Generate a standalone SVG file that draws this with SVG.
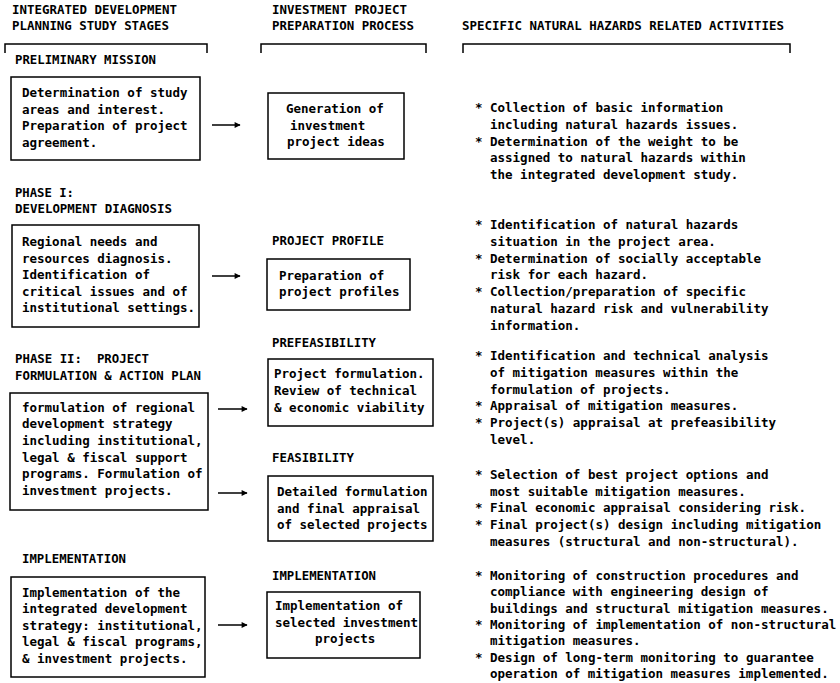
<svg xmlns="http://www.w3.org/2000/svg" width="840" height="683" viewBox="0 0 840 683">
<style>
text{font-family:"DejaVu Sans Mono","Liberation Mono",monospace;font-weight:bold;fill:#000}
.t{font-size:12.5px}
.h{font-size:13px}
.box{fill:none;stroke:#000;stroke-width:1.5}
.br{fill:none;stroke:#000;stroke-width:1.5}
.ar{stroke:#000;stroke-width:1.5;fill:none;marker-end:url(#ah)}
</style>
<defs>
<marker id="ah" viewBox="0 0 10 10" refX="9" refY="5" markerWidth="7" markerHeight="6" markerUnits="userSpaceOnUse" orient="auto">
<path d="M0,0 L10,5 L0,10 Z" fill="#000"/>
</marker>
</defs>
<rect width="840" height="683" fill="#fff"/>

<g id="headers">
<text class="h" x="12" y="13.5" textLength="165" lengthAdjust="spacingAndGlyphs">INTEGRATED DEVELOPMENT</text>
<text class="h" x="12" y="30" textLength="157" lengthAdjust="spacingAndGlyphs">PLANNING STUDY STAGES</text>
<text class="h" x="272" y="13.5" textLength="135" lengthAdjust="spacingAndGlyphs">INVESTMENT PROJECT</text>
<text class="h" x="272" y="30" textLength="142" lengthAdjust="spacingAndGlyphs">PREPARATION PROCESS</text>
<text class="h" x="462" y="30" textLength="322" lengthAdjust="spacingAndGlyphs">SPECIFIC NATURAL HAZARDS RELATED ACTIVITIES</text>
<path class="br" d="M5,53 V44 H207 V53"/>
<path class="br" d="M261,53 V44 H426 V53"/>
<path class="br" d="M463,53 V44 H790 V53"/>
</g>

<g id="labels">
<text class="h" x="15" y="64" textLength="141" lengthAdjust="spacingAndGlyphs">PRELIMINARY MISSION</text>
<text class="h" x="15" y="197" textLength="59" lengthAdjust="spacingAndGlyphs">PHASE I:</text>
<text class="h" x="15" y="213" textLength="157" lengthAdjust="spacingAndGlyphs">DEVELOPMENT DIAGNOSIS</text>
<text class="h" x="272" y="245" textLength="112" lengthAdjust="spacingAndGlyphs">PROJECT PROFILE</text>
<text class="h" x="272" y="346.7" textLength="104" lengthAdjust="spacingAndGlyphs">PREFEASIBILITY</text>
<text class="h" x="15" y="363" textLength="134" lengthAdjust="spacingAndGlyphs" xml:space="preserve">PHASE II:  PROJECT</text>
<text class="h" x="15" y="380" textLength="186" lengthAdjust="spacingAndGlyphs">FORMULATION &amp; ACTION PLAN</text>
<text class="h" x="272" y="461.7" textLength="82" lengthAdjust="spacingAndGlyphs">FEASIBILITY</text>
<text class="h" x="22" y="562.5" textLength="104" lengthAdjust="spacingAndGlyphs">IMPLEMENTATION</text>
<text class="h" x="272" y="580" textLength="104" lengthAdjust="spacingAndGlyphs">IMPLEMENTATION</text>
</g>

<g id="stage-preliminary">
<rect class="box" x="11" y="77" width="189" height="83"/>
<text class="t" x="22" y="97">Determination of study</text>
<text class="t" x="22" y="113.6">areas and interest.</text>
<text class="t" x="22" y="130.2">Preparation of project</text>
<text class="t" x="22" y="146.8">agreement.</text>
</g>

<g id="process-ideas">
<rect class="box" x="268" y="93" width="136" height="66"/>
<text class="t" x="286" y="113">Generation of</text>
<text class="t" x="290" y="129.6">investment</text>
<text class="t" x="287" y="146">project ideas</text>
</g>

<g id="activities-preliminary">
<text class="t" x="475" y="111.7">* Collection of basic information</text>
<text class="t" x="490" y="128.6">including natural hazards issues.</text>
<text class="t" x="475" y="145.5">* Determination of the weight to be</text>
<text class="t" x="490" y="162.4">assigned to natural hazards within</text>
<text class="t" x="490" y="179.3">the integrated development study.</text>
</g>

<g id="stage-phase1">
<rect class="box" x="12" y="225" width="187" height="102"/>
<text class="t" x="22" y="246">Regional needs and</text>
<text class="t" x="22" y="262.6">resources diagnosis.</text>
<text class="t" x="22" y="279.2">Identification of</text>
<text class="t" x="22" y="295.8">critical issues and of</text>
<text class="t" x="22" y="312.4">institutional settings.</text>
</g>

<g id="process-profile">
<rect class="box" x="267" y="259" width="143" height="51"/>
<text class="t" x="279" y="280">Preparation of</text>
<text class="t" x="279" y="296">project profiles</text>
</g>

<g id="activities-phase1">
<text class="t" x="475" y="229">* Identification of natural hazards</text>
<text class="t" x="490" y="245.8">situation in the project area.</text>
<text class="t" x="475" y="262.6">* Determination of socially acceptable</text>
<text class="t" x="490" y="279.4">risk for each hazard.</text>
<text class="t" x="475" y="296.2">* Collection/preparation of specific</text>
<text class="t" x="490" y="313">natural hazard risk and vulnerability</text>
<text class="t" x="490" y="329.8">information.</text>
</g>

<g id="process-prefeasibility">
<rect class="box" x="268" y="359" width="165" height="67"/>
<text class="t" x="274" y="378.3">Project formulation.</text>
<text class="t" x="274" y="395">Review of technical</text>
<text class="t" x="274" y="411.7">&amp; economic viability</text>
</g>

<g id="stage-phase2">
<rect class="box" x="10" y="393" width="198" height="117"/>
<text class="t" x="22" y="411.7">formulation of regional</text>
<text class="t" x="22" y="428.3">development strategy</text>
<text class="t" x="22" y="445">including institutional,</text>
<text class="t" x="22" y="461.6">legal &amp; fiscal support</text>
<text class="t" x="22" y="478.2">programs. Formulation of</text>
<text class="t" x="22" y="494.8">investment projects.</text>
</g>

<g id="activities-prefeasibility">
<text class="t" x="475" y="360">* Identification and technical analysis</text>
<text class="t" x="490" y="376.8">of mitigation measures within the</text>
<text class="t" x="490" y="393.6">formulation of projects.</text>
<text class="t" x="475" y="410.4">* Appraisal of mitigation measures.</text>
<text class="t" x="475" y="427.2">* Project(s) appraisal at prefeasibility</text>
<text class="t" x="490" y="444">level.</text>
</g>

<g id="process-feasibility">
<rect class="box" x="268" y="476" width="165" height="65"/>
<text class="t" x="277" y="496">Detailed formulation</text>
<text class="t" x="277" y="512.6">and final appraisal</text>
<text class="t" x="277" y="529.2">of selected projects</text>
</g>

<g id="activities-feasibility">
<text class="t" x="475" y="479">* Selection of best project options and</text>
<text class="t" x="490" y="495.7">most suitable mitigation measures.</text>
<text class="t" x="475" y="512.4">* Final economic appraisal considering risk.</text>
<text class="t" x="475" y="529">* Final project(s) design including mitigation</text>
<text class="t" x="490" y="545.7">measures (structural and non-structural).</text>
</g>

<g id="stage-implementation">
<rect class="box" x="11" y="577" width="194" height="100"/>
<text class="t" x="22" y="596.5">Implementation of the</text>
<text class="t" x="22" y="613">integrated development</text>
<text class="t" x="22" y="629.5">strategy: institutional,</text>
<text class="t" x="22" y="646">legal &amp; fiscal programs,</text>
<text class="t" x="22" y="662.5">&amp; investment projects.</text>
</g>

<g id="process-implementation">
<rect class="box" x="267" y="592" width="153" height="66"/>
<text class="t" x="275" y="610">Implementation of</text>
<text class="t" x="275" y="626.7">selected investment</text>
<text class="t" x="315" y="643">projects</text>
</g>

<g id="activities-implementation">
<text class="t" x="475" y="580">* Monitoring of construction procedures and</text>
<text class="t" x="490" y="596.3">compliance with engineering design of</text>
<text class="t" x="490" y="612.7">buildings and structural mitigation measures.</text>
<text class="t" x="475" y="629">* Monitoring of implementation of non-structural</text>
<text class="t" x="490" y="645.3">mitigation measures.</text>
<text class="t" x="475" y="661.7">* Design of long-term monitoring to guarantee</text>
<text class="t" x="490" y="678">operation of mitigation measures implemented.</text>
</g>

<g id="connectors">
<line class="ar" x1="212" y1="125" x2="240" y2="125"/>
<line class="ar" x1="212" y1="276" x2="240" y2="276"/>
<line class="ar" x1="218" y1="409" x2="247" y2="409"/>
<line class="ar" x1="218" y1="493" x2="247" y2="493"/>
<line class="ar" x1="218" y1="625" x2="247" y2="625"/>
</g>
</svg>
